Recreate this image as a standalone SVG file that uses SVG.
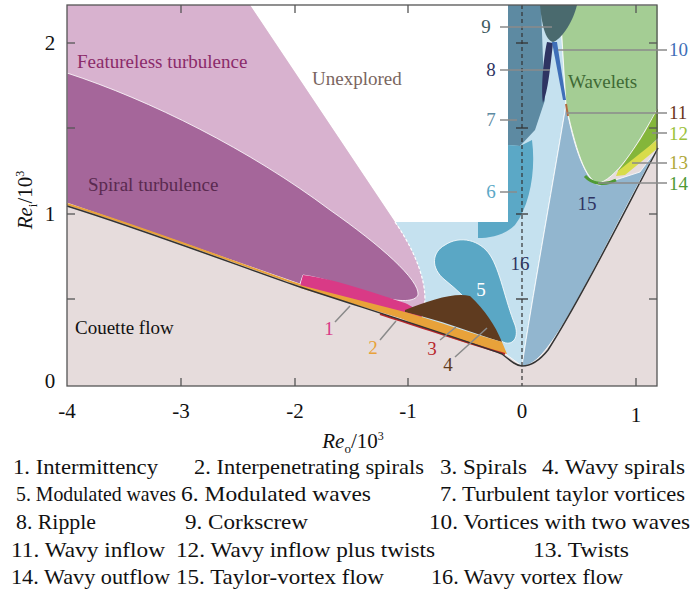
<svg xmlns="http://www.w3.org/2000/svg" width="700" height="593" viewBox="0 0 700 593" font-family="'Liberation Serif', 'Times New Roman', serif">
<style>
text{font-family:'Liberation Serif','Times New Roman',serif}
.lg{font-size:21px;fill:#111}
.ax{font-size:21px;fill:#111}
.ld{stroke:#8a8a8a;stroke-width:1.5;fill:none}
.n{font-size:19px}
.wl{stroke:#fff;stroke-width:1;stroke-opacity:.8}
</style>
<rect width="700" height="593" fill="#fff"/>
<g id="plot">
<rect x="67" y="5" width="590" height="381" fill="#e6dcdc"/>
<path id="r16" class="wl" d="M395,222 L545,5 L560,5 L566,105 C550,200 532,300 522,366 L500,350 L420,325 C430,300 420,260 395,222 Z" fill="#c5e1ef"/>
<path id="white" d="M250,5 L508,5 L508,222 L395,222 Z" fill="#fff"/>
<path id="r7" d="M508,5 L541,5 L543,60 L545,100 L535,130 L520,146 L508,145 Z" fill="#5d8aa2"/>
<path id="r6" d="M508,145 L520,146 L532,140 C536,170 530,205 515,225 C505,235 490,238 478,238 L478,222 L508,222 Z" fill="#5ba8c6"/>
<path id="r15" class="wl" d="M566,105 C576,160 590,185 600,185 L640,172 L658,148 C612,230 572,320 542,354 C534,363 527,366 522,366 C532,300 550,200 566,105 Z" fill="#92b6cf"/>
<path id="wav" class="wl" d="M560,5 L658,5 L658,108 C640,140 620,175 600,183 C588,183 578,160 566,105 Z" fill="#a4cd94"/>
<path id="r12" d="M658,108 L658,138 L624,172 L618,171 C635,150 648,128 658,108 Z" fill="#84b63a"/>
<path id="r13" d="M657,140 L658,148 L625,175 L616,176 L618,171 Z" fill="#d8dc4a"/>
<path id="r14" d="M585,176 C592,184 605,186 616,180" stroke="#4f9a34" stroke-width="3" fill="none"/>
<path id="r9" d="M540,5 L577,5 C572,25 560,40 553,42 C545,40 542,25 540,5 Z" fill="#4a6a6e"/>
<path id="r8" d="M547,42 L553,43 C550,70 548,90 543,103 C541,90 543,60 547,42 Z" fill="#2e3462"/>
<path id="r10" d="M552,42 L557,42 L566,100 L563,100 Z" fill="#3f6fb8"/>
<path id="r11" d="M566,104 L568,116" stroke="#b06a40" stroke-width="2"/>
<path id="feat" d="M67,5 L250,5 L395,222 C425,265 432,305 418,322 L67,205 Z" fill="#d8b2cf"/>
<path d="M395,222 C425,265 432,305 418,322" stroke="#fff" stroke-width="1.2" stroke-dasharray="3 2" fill="none"/>
<path id="spiral" class="wl" d="M67,73 C150,100 250,150 330,210 C380,245 420,280 418,295 C415,302 400,302 380,297 C350,288 325,278 303,275 L300,284 L67,203 Z" fill="#a5669a"/>
<path id="r1" d="M303,275 C340,280 380,295 405,303 C420,310 426,318 420,324 L300,286 Z" fill="#d93a86"/>
<path id="r5" class="wl" d="M445,245 C460,235 480,240 490,255 C500,270 505,300 515,325 C520,340 510,348 500,340 C485,320 470,300 445,280 C430,268 432,252 445,245 Z" fill="#5aa7c5"/>
<path id="r4" d="M405,310 C430,300 455,292 470,296 C485,310 495,325 502,342 C470,332 440,320 405,312 Z" fill="#5f3b1f"/>
<path id="r2" d="M300,285 L405,312 C440,322 470,333 502,342 L507,354 C470,345 440,335 400,318 L300,288 Z" fill="#e8a23a"/>
<path id="r3" d="M380,314 C430,330 470,344 505,354" stroke="#b8262c" stroke-width="2" fill="none"/>
<path d="M67,204 C150,230 250,268 300,285" stroke="#e8a23a" stroke-width="2" fill="none"/>
<path id="couette" d="M67,206 C150,232 250,270 300,287 C370,310 450,335 502,354 C512,362 517,366 522,366 C532,366 540,360 548,350 C580,300 620,220 658,148" stroke="#333" stroke-width="1.5" fill="none"/>
<line x1="522" y1="5" x2="522" y2="386" stroke="#333" stroke-width="1.2" stroke-dasharray="4 3"/>
<g stroke="#333" stroke-width="1.3">
<line x1="516" y1="43" x2="528" y2="43"/><line x1="516" y1="128" x2="528" y2="128"/><line x1="516" y1="214" x2="528" y2="214"/><line x1="516" y1="299" x2="528" y2="299"/>
</g>
<rect x="67" y="5" width="590" height="381" fill="none" stroke="#555" stroke-width="1.3"/>
<g stroke="#555" stroke-width="1.3">
<line x1="181" y1="386" x2="181" y2="378"/><line x1="295" y1="386" x2="295" y2="378"/><line x1="408" y1="386" x2="408" y2="378"/><line x1="636" y1="386" x2="636" y2="378"/>
<line x1="181" y1="5" x2="181" y2="13"/><line x1="295" y1="5" x2="295" y2="13"/><line x1="408" y1="5" x2="408" y2="13"/><line x1="636" y1="5" x2="636" y2="13"/>
<line x1="67" y1="43" x2="75" y2="43"/><line x1="67" y1="128" x2="75" y2="128"/><line x1="67" y1="214" x2="75" y2="214"/><line x1="67" y1="299" x2="75" y2="299"/>
<line x1="657" y1="43" x2="649" y2="43"/><line x1="657" y1="128" x2="649" y2="128"/><line x1="657" y1="214" x2="649" y2="214"/><line x1="657" y1="299" x2="649" y2="299"/>
</g>
</g>
<g id="connectors">
<path class="ld" d="M500,27 L552,27 M500,70 L550,70 M500,120 L517,120 M500,192 L517,192 M558,50 L667,50 M567,113 L667,113 M652,133 L667,133 M632,163 L667,163 M598,183 L667,183 M335,322 L350,306 M380,340 L396,321 M440,340 L456,327 M455,357 L487,328"/>
</g>
<g id="labels">
<text x="77" y="68" font-size="19" fill="#8b2a6a">Featureless turbulence</text>
<text x="312" y="85" font-size="19" fill="#7a6660">Unexplored</text>
<text x="88" y="191" font-size="19" fill="#5a2a50">Spiral turbulence</text>
<text x="75" y="334" font-size="19" fill="#111">Couette flow</text>
<text x="568" y="88" font-size="19" fill="#3f6a35">Wavelets</text>
<text class="n" x="486" y="33" text-anchor="middle" fill="#3d5a5e">9</text>
<text class="n" x="491" y="76" text-anchor="middle" fill="#2e3462">8</text>
<text class="n" x="491" y="126" text-anchor="middle" fill="#5d8aa2">7</text>
<text class="n" x="491" y="198" text-anchor="middle" fill="#5ba8c6">6</text>
<text class="n" x="669" y="56" fill="#3f6fb8">10</text>
<text class="n" x="669" y="119" fill="#6b3520">11</text>
<text class="n" x="669" y="140" fill="#9cc23a">12</text>
<text class="n" x="669" y="169" fill="#b0a83a">13</text>
<text class="n" x="669" y="190" fill="#4f9a34">14</text>
<text class="n" x="587" y="210" text-anchor="middle" fill="#2e3462">15</text>
<text class="n" x="520" y="270" text-anchor="middle" fill="#2e3462">16</text>
<text class="n" x="481" y="296" text-anchor="middle" fill="#fff">5</text>
<text class="n" x="329" y="335" text-anchor="middle" fill="#d93a86">1</text>
<text class="n" x="373" y="354" text-anchor="middle" fill="#e8a23a">2</text>
<text class="n" x="432" y="355" text-anchor="middle" fill="#b8262c">3</text>
<text class="n" x="448" y="371" text-anchor="middle" fill="#5f3b1f">4</text>
</g>
<g id="axes">
<text class="ax" x="67" y="418" text-anchor="middle">-4</text>
<text class="ax" x="181" y="418" text-anchor="middle">-3</text>
<text class="ax" x="295" y="418" text-anchor="middle">-2</text>
<text class="ax" x="408" y="418" text-anchor="middle">-1</text>
<text class="ax" x="522" y="418" text-anchor="middle">0</text>
<text class="ax" x="636" y="422" text-anchor="middle">1</text>
<text class="ax" x="50" y="50" text-anchor="middle">2</text>
<text class="ax" x="50" y="221" text-anchor="middle">1</text>
<text class="ax" x="50" y="388" text-anchor="middle">0</text>
<text class="ax" x="353" y="448" text-anchor="middle"><tspan font-style="italic">Re</tspan><tspan font-size="13" dy="5">o</tspan><tspan dy="-5">/10</tspan><tspan font-size="12" dy="-8">3</tspan></text>
<text class="ax" transform="translate(32,200) rotate(-90)" text-anchor="middle"><tspan font-style="italic">Re</tspan><tspan font-size="13" dy="5">i</tspan><tspan dy="-5">/10</tspan><tspan font-size="12" dy="-8">3</tspan></text>
</g>
<g id="legend" class="lg">
<text x="13" y="474" textLength="145" lengthAdjust="spacingAndGlyphs">1. Intermittency</text>
<text x="194" y="474" textLength="230" lengthAdjust="spacingAndGlyphs">2. Interpenetrating spirals</text>
<text x="440" y="474" textLength="87" lengthAdjust="spacingAndGlyphs">3. Spirals</text>
<text x="542" y="474" textLength="143" lengthAdjust="spacingAndGlyphs">4. Wavy spirals</text>
<text x="16" y="501" textLength="160" lengthAdjust="spacingAndGlyphs">5. Modulated waves</text>
<text x="181" y="501" textLength="190" lengthAdjust="spacingAndGlyphs">6. Modulated waves</text>
<text x="440" y="501" textLength="245" lengthAdjust="spacingAndGlyphs">7. Turbulent taylor vortices</text>
<text x="16" y="529" textLength="80" lengthAdjust="spacingAndGlyphs">8. Ripple</text>
<text x="185" y="529" textLength="123" lengthAdjust="spacingAndGlyphs">9. Corkscrew</text>
<text x="429" y="529" textLength="261" lengthAdjust="spacingAndGlyphs">10. Vortices with  two waves</text>
<text x="11" y="557" textLength="154" lengthAdjust="spacingAndGlyphs">11. Wavy inflow</text>
<text x="176" y="557" textLength="259" lengthAdjust="spacingAndGlyphs">12. Wavy inflow plus twists</text>
<text x="533" y="557" textLength="96" lengthAdjust="spacingAndGlyphs">13. Twists</text>
<text x="11" y="584" textLength="159" lengthAdjust="spacingAndGlyphs">14. Wavy outflow</text>
<text x="176" y="584" textLength="208" lengthAdjust="spacingAndGlyphs">15. Taylor-vortex flow</text>
<text x="431" y="584" textLength="192" lengthAdjust="spacingAndGlyphs">16. Wavy vortex flow</text>
</g>
</svg>
